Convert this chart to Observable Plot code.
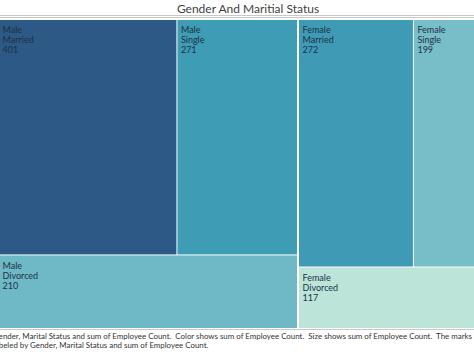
<!DOCTYPE html>
<html>
<head>
<meta charset="utf-8">
<script src="https://cdn.jsdelivr.net/npm/d3@7"></script>
<script src="https://cdn.jsdelivr.net/npm/@observablehq/plot@0.6"></script>
<style>
  html, body { margin: 0; padding: 0; background: #fff; overflow: hidden; width: 474px; height: 355px; }
  #title { position: absolute; left: 0; top: 0; width: 496px; height: 15px; text-align: center;
           font: 12px Lato, "Open Sans", sans-serif; color: #3f3f3f; line-height: 18px; }
  #rule1 { position: absolute; left: 0; top: 15px; width: 474px; height: 0; border-top: 1px solid #c8c8c8; }
  #rule2 { position: absolute; left: 0; top: 17px; width: 474px; height: 0; border-top: 1px solid #c8c8c8; }
  #chart { position: absolute; left: 0; top: 20px; }
  #rule3 { position: absolute; left: 0; top: 329px; width: 474px; height: 0; border-top: 1px solid #c8c8c8; }
  #caption { position: absolute; left: -7px; top: 332px; white-space: nowrap;
             font: 7.9px Lato, "Open Sans", sans-serif; color: #333; line-height: 9px; }
</style>
</head>
<body>
<div id="title">Gender And Maritial Status</div>
<div id="rule1"></div>
<div id="rule2"></div>
<div id="chart"></div>
<div id="rule3"></div>
<div id="caption"></div>
<script>
const genders = ["Male", "Male", "Male", "Female", "Female", "Female"];
const statuses = ["Married", "Single", "Divorced", "Married", "Single", "Divorced"];
const counts = [401, 271, 210, 272, 199, 117];
const captionLines = [
  "Gender, Marital Status and sum of Employee Count.  Color shows sum of Employee Count.  Size shows sum of Employee Count.  The marks are",
  "labeled by Gender, Marital Status and sum of Employee Count."
];

const palette = ["#bce4d8","#aedcd5","#a1d5d2","#95cecf","#89c8cc","#7ec1ca","#72bac6","#66b2c2","#59acbe","#4ba5ba",
                 "#419eb6","#3b96b2","#358ead","#3586a7","#347ea1","#32779b","#316f96","#2f6790","#2d608a","#2c5985"];

document.getElementById("caption").innerHTML = captionLines.map(l => `<div>${l.replace(/  /g, "&nbsp; ")}</div>`).join("");

const rows = genders.map((g, i) => ({gender: g, status: statuses[i], count: counts[i]}));
const groups = Array.from(d3.group(rows, d => d.gender), ([name, children]) => ({name, children}));
const root = d3.hierarchy({name: "root", children: groups})
  .sum(d => d.count || 0)
  .sort((a, b) => b.value - a.value);

const W = 498, H = 308;
d3.treemap()
  .size([W, H])
  .tile(d3.treemapSquarify)
  .paddingInner(d => d.depth === 0 ? 2 : 1)
  (root);

const leaves = root.leaves().map(d => ({
  x0: d.x0, x1: d.x1, y0: d.y0, y1: d.y1,
  gender: d.data.gender, status: d.data.status, count: d.data.count,
  label: `${d.data.gender}\n${d.data.status}\n${d.data.count}`
}));

const chart = Plot.plot({
  width: 474,
  height: H,
  margin: 0,
  x: {domain: [1, 475], range: [0, 474], axis: null},
  y: {domain: [0, H], range: [0, H], axis: null},
  color: {type: "linear", domain: d3.extent(counts), interpolate: d3.interpolateRgbBasis(palette)},
  style: {fontFamily: "Lato, 'Open Sans', sans-serif", background: "white"},
  marks: [
    Plot.rect(leaves, {x1: "x0", x2: "x1", y1: "y0", y2: "y1", fill: "count", clip: true}),
    Plot.text(leaves, {
      x: "x0", y: "y0", text: "label",
      dx: 3, dy: 5.5,
      textAnchor: "start", lineAnchor: "top", lineHeight: 1.12,
      fill: "#1c3148", fontSize: 9
    })
  ]
});
document.getElementById("chart").appendChild(chart);
</script>
</body>
</html>
